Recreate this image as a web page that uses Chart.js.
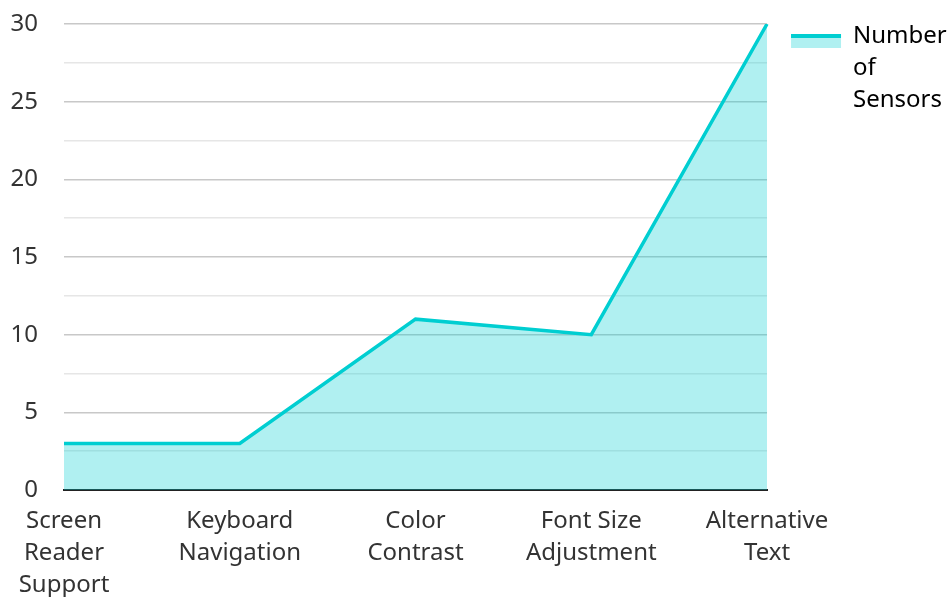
<!DOCTYPE html>
<html>
<head>
<meta charset="utf-8">
<script src="https://cdn.jsdelivr.net/npm/chart.js@4"></script>
<style>
  html, body { margin: 0; padding: 0; background: #fff; }
  #wrap { width: 952px; height: 597px; position: relative; }
</style>
</head>
<body>
<div id="wrap"><canvas id="myChart"></canvas></div>
<script>
const categories = [
  ['Screen', 'Reader', 'Support'],
  ['Keyboard', 'Navigation'],
  ['Color', 'Contrast'],
  ['Font Size', 'Adjustment'],
  ['Alternative', 'Text']
];
const sensors = [3, 3, 11, 10, 30];
const seriesName = 'Number of Sensors';
const legendLines = ['Number', 'of', 'Sensors'];

const lineColor = '#00CED1';
const fillColor = 'rgba(0, 206, 209, 0.31)';
const textColor = '#333333';
const fontFamily = '"Noto Sans", "Open Sans", sans-serif';

// legend swatch: light fill with the thick line on top
const legendLinePlugin = {
  id: 'legendLine',
  afterDraw: (chart) => {
    const legend = chart.legend;
    if (!legend || !legend.legendHitBoxes || !legend.legendHitBoxes.length) return;
    const hb = legend.legendHitBoxes[0];
    const opts = legend.options.labels;
    const top = hb.top + 10;
    const ctx = chart.ctx;
    ctx.save();
    ctx.fillStyle = fillColor;
    ctx.fillRect(hb.left, top, opts.boxWidth, 14);
    ctx.fillStyle = lineColor;
    ctx.fillRect(hb.left, top, opts.boxWidth, 4);
    ctx.restore();
  }
};

const createChart = () => {
  const data = {
    labels: categories,
    datasets: [{
      label: seriesName,
      data: sensors,
      borderColor: lineColor,
      backgroundColor: fillColor,
      borderWidth: 3.5,
      fill: 'origin',
      tension: 0,
      pointRadius: 0,
      pointHoverRadius: 0
    }]
  };

  const config = {
    type: 'line',
    data: data,
    options: {
      responsive: true,
      maintainAspectRatio: false,
      animation: false,
      layout: { padding: 0 },
      scales: {
        x: {
          offset: false,
          grid: { display: false },
          border: { display: true, color: '#222', width: 2 },
          ticks: {
            color: textColor,
            font: { family: fontFamily, size: 24, lineHeight: 1.34 },
            maxRotation: 0,
            autoSkip: false,
            padding: 7
          },
          afterFit: (scale) => { scale.height = 107; }
        },
        y: {
          min: 0,
          max: 30,
          border: { display: false },
          grid: {
            drawTicks: false,
            color: (ctx) => {
              const v = ctx.tick.value;
              if (v === 0) return '#222';
              return v % 5 === 0 ? '#c8c8c8' : '#e6e6e6';
            },
            lineWidth: (ctx) => ctx.tick.value === 0 ? 2 : 1.5
          },
          ticks: {
            stepSize: 2.5,
            autoSkip: false,
            color: textColor,
            font: { family: fontFamily, size: 24 },
            padding: 26,
            callback: (v) => v % 5 === 0 ? String(v) : ''
          },
          afterFit: (scale) => {
            scale.width = 64;
            scale.paddingTop = 24;
          }
        }
      },
      plugins: {
        tooltip: { enabled: false },
        legend: {
          position: 'right',
          align: 'start',
          labels: {
            boxWidth: 50,
            boxHeight: 14,
            color: '#222',
            font: { family: fontFamily, size: 24, lineHeight: 1.34 },
            padding: 24,
            generateLabels: (chart) => [{
              text: legendLines,
              fillStyle: 'rgba(0,0,0,0)',
              strokeStyle: 'rgba(0,0,0,0)',
              lineWidth: 0,
              datasetIndex: 0
            }]
          }
        }
      }
    },
    plugins: [legendLinePlugin]
  };

  new Chart(document.getElementById('myChart'), config);
};

createChart();
</script>
</body>
</html>
